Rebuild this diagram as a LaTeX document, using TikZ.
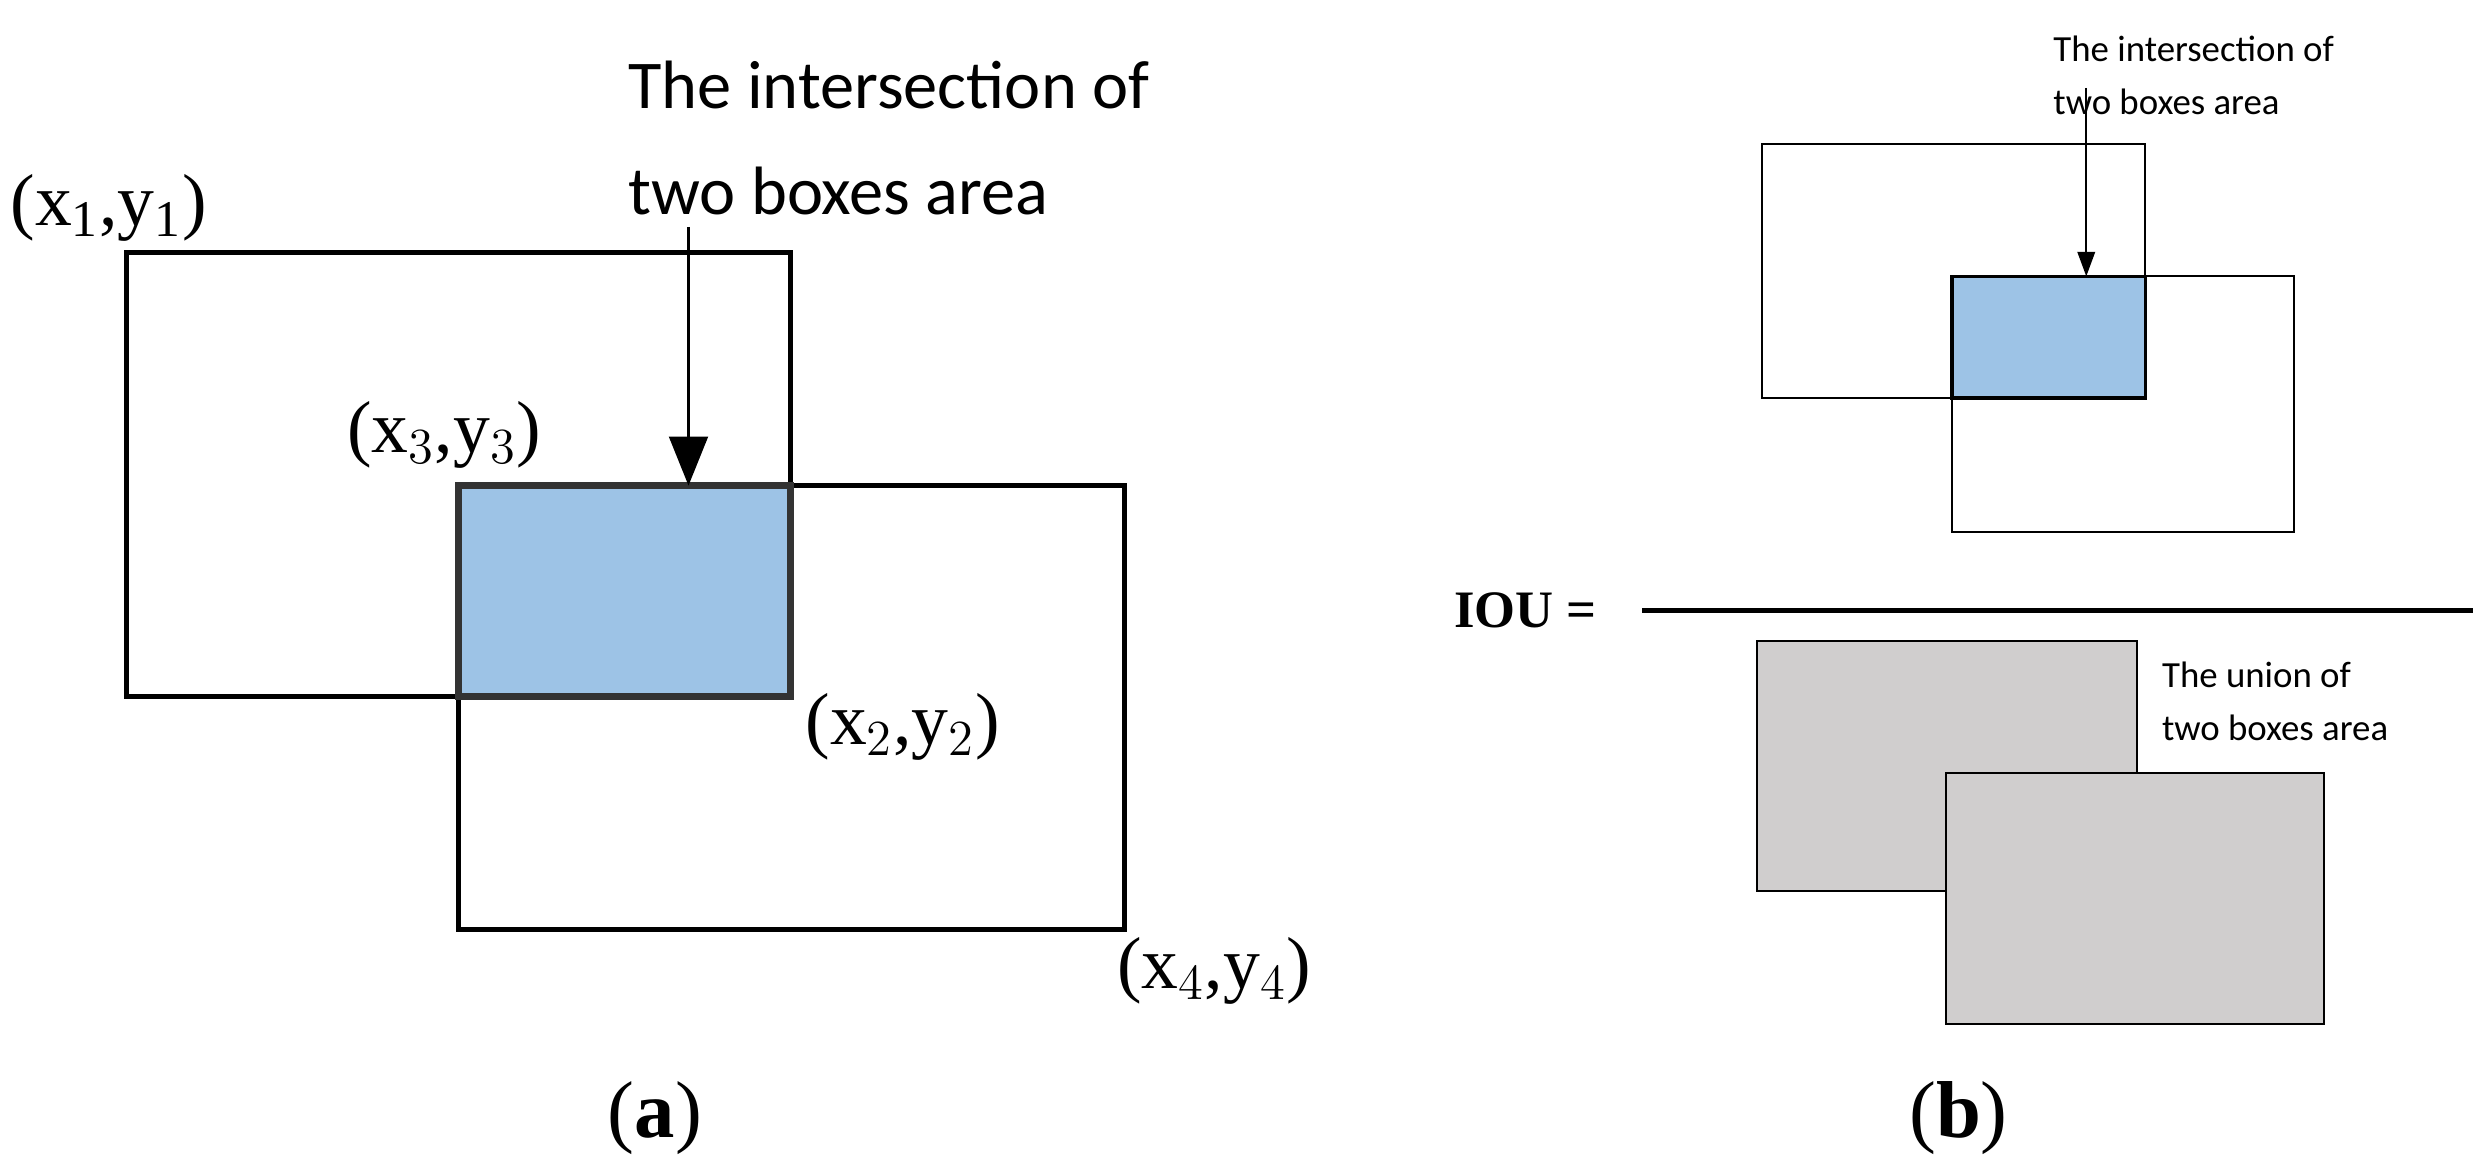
\documentclass[tikz,border=0pt]{standalone}
\usepackage{fontspec}
\setmainfont{Liberation Serif}
\newfontfamily\labelsans{Carlito}
\usetikzlibrary{arrows.meta}
\definecolor{ioublue}{RGB}{157,195,230}
\definecolor{uniongray}{RGB}{208,206,206}
\begin{document}
\begin{tikzpicture}[x=0.016cm,y=-0.016cm,
        box/.style={draw, line width=1.4pt},
        smallbox/.style={draw, line width=0.6pt},
        coord/.style={font=\fontsize{21}{24}\selectfont, inner sep=0pt},
        note/.style={font=\labelsans\fontsize{19.5}{30}\selectfont, align=left, inner sep=0pt, anchor=north west},
        smallnote/.style={font=\labelsans\fontsize{10.5}{15}\selectfont, align=left, inner sep=0pt, anchor=north west},
        caption/.style={font=\fontsize{23}{26}\selectfont, inner sep=0pt}
    ]
        \useasboundingbox (0,0) rectangle (1560,736);

        % (a) two boxes
        \fill[ioublue] (287,304) rectangle (495,436);
        \draw[box] (79,158) rectangle (495,436);
        \draw[box] (287,304) rectangle (704,582);
        \draw[line width=2pt, draw=black!80] (287,304) rectangle (495,436);
        \node[note] (inter) at (393,38) {The intersection of\\two boxes area};
        \coordinate (tipa) at (431,304);
        \draw[line width=1pt, -{Triangle[length=14pt,width=11pt]}] (431,142) -- (tipa);
        \node[coord] (p1) at (68,130) {(x\textsubscript{1},y\textsubscript{1})};
        \node[coord] (p3) at (278,272) {(x$_3$,y$_3$)};
        \node[coord] (p2) at (565,455) {(x$_2$,y$_2$)};
        \node[coord] (p4) at (760,608) {(x$_4$,y$_4$)};
        \node[caption] (capa) at (410,700) {(\textbf{a})};

        % (b) intersection over union
        \fill[ioublue] (1222,173) rectangle (1343,249);
        \draw[smallbox] (1103,90) rectangle (1343,249);
        \draw[smallbox] (1222,173) rectangle (1436,333);
        \draw[line width=1pt] (1222,173) rectangle (1343,249);
        \node[smallnote] (interb) at (1285,22) {The intersection of\\two boxes area};
        \coordinate (tipb) at (1306,173);
        \draw[line width=0.6pt, -{Triangle[length=7pt,width=5pt]}] (1306,55) -- (tipb);
        \node[font=\bfseries\fontsize{15}{18}\selectfont, inner sep=0pt] (iou) at (955,382) {IOU =};
        \coordinate (fracl) at (1028,382);
        \coordinate (fracr) at (1548,382);
        \draw[line width=1.3pt] (fracl) -- (fracr);
        \draw[smallbox, fill=uniongray] (1100,401) rectangle (1338,558);
        \draw[smallbox, fill=uniongray] (1218,484) rectangle (1455,641);
        \node[smallnote] (union) at (1353,414) {The union of\\two boxes area};
        \node[caption] (capb) at (1226,700) {(\textbf{b})};
    \end{tikzpicture}
\end{document}
